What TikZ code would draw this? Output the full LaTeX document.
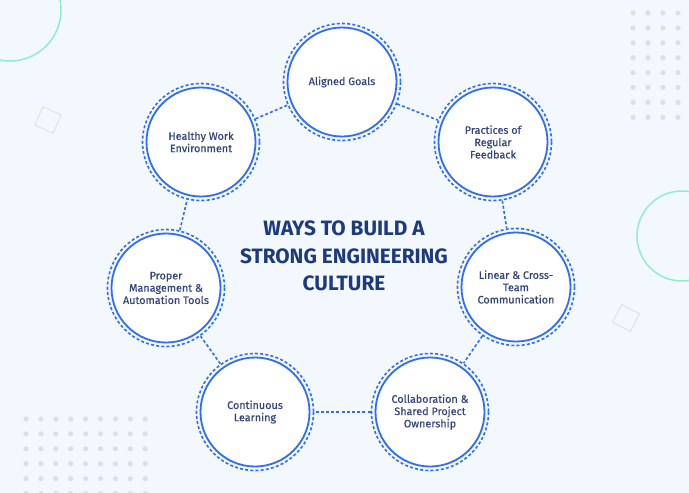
\documentclass[tikz,border=0pt]{standalone}
\usepackage{fontspec}
\setmainfont{Fira Sans}
\newfontfamily\labelfont[FakeBold=0.5]{Fira Sans}
\usepackage{tikz}
\usetikzlibrary{shapes.geometric, arrows}

\definecolor{bgblue}{HTML}{F3F7FE}
\definecolor{ringblue}{HTML}{2F6EF2}
\definecolor{labelnavy}{HTML}{34457A}
\definecolor{titlenavy}{HTML}{1C3A7C}
\definecolor{mint}{HTML}{8EEFC9}
\definecolor{dotgrey}{HTML}{DCDEEF}
\definecolor{squaregrey}{HTML}{DDE1F2}

\begin{document}
\begin{tikzpicture}[x=1pt, y=-1pt]
\tikzstyle{topic} = [circle, minimum size=109pt, inner sep=0pt, align=center, draw=ringblue, line width=1.8pt, fill=white, text=labelnavy, font=\labelfont\fontsize{10.8}{12.3}\selectfont]
\tikzstyle{ring} = [draw=ringblue, line width=1.6pt, dash pattern=on 3pt off 2.2pt]
\tikzstyle{link} = [ring, shorten <=4pt, shorten >=4pt]
\tikzstyle{deco} = [draw=mint, line width=1.5pt]
\tikzstyle{square} = [draw=squaregrey, line width=1pt]

% background and decorations
\fill[bgblue] (0,0) rectangle (689,493);
\useasboundingbox (0,0) rectangle (689,493);
\clip (0,0) rectangle (689,493);
\draw[deco] (10,10) circle (51);
\draw[deco] (682,236) circle (45);
\draw[square, rotate around={-25:(48,120)}] (38,110) rectangle (58,130);
\draw[square, rotate around={-27:(626,318)}] (616,308) rectangle (636,328);
\foreach \i in {0,...,3}
  \foreach \j in {0,...,7}
    \fill[dotgrey] (633+\i*15,13+\j*14.9) circle (2.6);
\foreach \i in {0,...,8}
  \foreach \j in {0,...,5}
    \fill[dotgrey] (26+\i*14.9,419+\j*14.9) circle (2.6);

% topics
\node (ag) [topic] at (342,82) {Aligned Goals};
\node (pr) [topic] at (493,142) {Practices of\\Regular\\Feedback};
\node (lc) [topic] at (516,287) {Linear \& Cross-\\Team\\Communication};
\node (co) [topic] at (430,412) {Collaboration \&\\Shared Project\\Ownership};
\node (cl) [topic] at (255,412) {Continuous\\Learning};
\node (pm) [topic] at (166,288) {Proper\\Management \&\\Automation Tools};
\node (hw) [topic] at (201,142) {Healthy Work\\Environment};

\node (title) [align=center, text=titlenavy, font=\fontsize{20.8}{27.5}\selectfont\bfseries] at (344,256) {WAYS TO BUILD A\\STRONG ENGINEERING\\CULTURE};

% dashed rings
\foreach \n in {ag,pr,lc,co,cl,pm,hw}
  \draw[ring] (\n.center) circle (58.5);

\draw [link] (ag) -- (pr);
\draw [link] (pr) -- (lc);
\draw [link] (lc) -- (co);
\draw [link] (co) -- (cl);
\draw [link] (cl) -- (pm);
\draw [link] (pm) -- (hw);
\draw [link] (hw) -- (ag);
\end{tikzpicture}
\end{document}
